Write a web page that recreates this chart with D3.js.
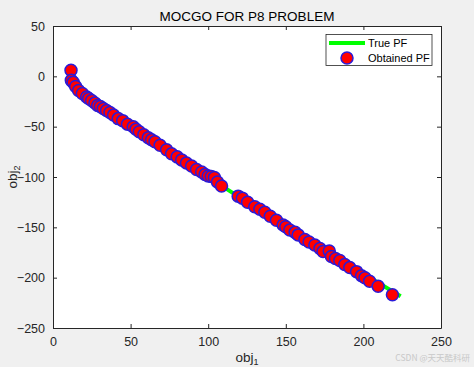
<!DOCTYPE html>
<html>
<head>
<meta charset="utf-8">
<script src="https://cdn.jsdelivr.net/npm/d3@7"></script>
<style>
  body { margin: 0; background: #f0f0f0; }
  svg { display: block; font-family: 'Liberation Sans', Arial, sans-serif; }
</style>
</head>
<body>
<div id="chart"></div>
<script>
// obtained PF (obj1, obj2)
const obtX = [11.6, 11.8, 13, 14.6, 16.5, 18.9, 21.7, 23, 24.9, 27, 28.8, 30.5, 32.4, 34.5, 36.7, 39, 42, 44.9, 48, 51.7,
  53.5, 55.6, 58.5, 61.4, 63.5, 65.7, 69, 73.2, 76.4, 80, 82.9, 86, 89.3, 92.5, 95.8, 98, 100, 102, 104, 106, 108.6,
  119.3, 122, 125.4, 130, 133.3, 136.5, 140, 144, 148.3, 150, 152.6, 156, 158, 162.3, 165, 168.7, 172, 174, 178, 179.4,
  182, 184.8, 188, 191.2, 195.6, 198.8, 201, 204, 209.5, 218.7]
const obtY = [6, -4, -6, -10, -14, -17, -20.5, -22, -24, -26.5, -29, -30, -32, -34, -36, -38.5, -42, -44, -47.5, -50,
  -52.5, -55, -58, -61, -63, -65, -68.5, -73, -77, -80, -83, -86, -89, -92.5, -95, -97.5, -99, -99.5, -100.5, -105, -109,
  -119, -121, -125, -129.5, -132, -135, -139, -143, -147.6, -149.5, -152.6, -155, -157.5, -162, -164.5, -167.5, -171, -174, -173.5, -179,
  -181, -183, -187, -190, -194, -198, -200, -203.5, -208.5, -217]

// true PF
const trueX = [11, 30, 60, 114, 160, 224]
const trueY = [-3, -28.5, -59, -114, -159, -218.5]

const xTicks = [0, 50, 100, 150, 200, 250]
const yTicks = [-250, -200, -150, -100, -50, 0, 50]

const width = 474
const height = 367
const margin = { top: 26, right: 33, bottom: 39, left: 53 }

const x = d3.scaleLinear().domain([0, 250]).range([margin.left, width - margin.right])
const y = d3.scaleLinear().domain([-250, 50]).range([height - margin.bottom, margin.top])

const svg = d3.select('#chart').append('svg')
  .attr('width', width)
  .attr('height', height)

svg.append('rect').attr('width', width).attr('height', height).attr('fill', '#f0f0f0')

svg.append('rect')
  .attr('x', margin.left).attr('y', margin.top)
  .attr('width', x(250) - x(0)).attr('height', y(-250) - y(50))
  .attr('fill', '#fff')

// axes with inward ticks, box on
const tickColor = '#262626'
const axisStyle = g => g.call(g => g.select('.domain').attr('stroke', tickColor))
  .call(g => g.selectAll('.tick line').attr('stroke', tickColor))
  .call(g => g.selectAll('.tick text').attr('fill', '#262626').attr('font-size', 12.5))

svg.append('g')
  .attr('transform', `translate(0,${y(-250)})`)
  .call(d3.axisBottom(x).tickValues(xTicks).tickSizeInner(-4).tickSizeOuter(0).tickPadding(9))
  .call(axisStyle)

svg.append('g')
  .attr('transform', `translate(0,${y(50)})`)
  .call(d3.axisTop(x).tickValues(xTicks).tickSizeInner(-4).tickSizeOuter(0).tickFormat(''))
  .call(axisStyle)

svg.append('g')
  .attr('transform', `translate(${x(0)},0)`)
  .call(d3.axisLeft(y).tickValues(yTicks).tickSizeInner(-4).tickSizeOuter(0).tickPadding(8))
  .call(axisStyle)

svg.append('g')
  .attr('transform', `translate(${x(250)},0)`)
  .call(d3.axisRight(y).tickValues(yTicks).tickSizeInner(-4).tickSizeOuter(0).tickFormat(''))
  .call(axisStyle)

// true PF line
const trueData = trueX.map((v, i) => [v, trueY[i]])
svg.append('path')
  .datum(trueData)
  .attr('fill', 'none')
  .attr('stroke', '#00ff00')
  .attr('stroke-width', 4)
  .attr('d', d3.line().x(d => x(d[0])).y(d => y(d[1])))

// obtained PF markers
const obtData = obtX.map((v, i) => [v, obtY[i]])
svg.append('g')
  .selectAll('circle')
  .data(obtData)
  .join('circle')
  .attr('cx', d => x(d[0]))
  .attr('cy', d => y(d[1]))
  .attr('r', 6)
  .attr('fill', '#ff0000')
  .attr('stroke', '#2a1ad8')
  .attr('stroke-width', 1.5)

// title and labels
svg.append('text')
  .attr('x', (x(0) + x(250)) / 2).attr('y', 21)
  .attr('text-anchor', 'middle').attr('font-size', 13.5).attr('fill', '#000')
  .text('MOCGO FOR P8 PROBLEM')

const xl = svg.append('text')
  .attr('x', (x(0) + x(250)) / 2).attr('y', 362)
  .attr('text-anchor', 'middle').attr('font-size', 13.5).attr('fill', '#262626')
xl.append('tspan').text('obj')
xl.append('tspan').attr('font-size', 9).attr('dy', 3).text('1')

const yl = svg.append('text')
  .attr('transform', `translate(17,${(y(50) + y(-250)) / 2}) rotate(-90)`)
  .attr('text-anchor', 'middle').attr('font-size', 13.5).attr('fill', '#262626')
yl.append('tspan').text('obj')
yl.append('tspan').attr('font-size', 9).attr('dy', 3).text('2')

// legend
const lg = svg.append('g')
lg.append('rect')
  .attr('x', 326).attr('y', 34.5).attr('width', 106).attr('height', 31)
  .attr('fill', '#fff').attr('stroke', '#262626').attr('stroke-width', 0.8)
lg.append('line')
  .attr('x1', 329).attr('x2', 365).attr('y1', 43).attr('y2', 43)
  .attr('stroke', '#00ff00').attr('stroke-width', 4)
lg.append('circle')
  .attr('cx', 347).attr('cy', 58).attr('r', 6)
  .attr('fill', '#ff0000').attr('stroke', '#2a1ad8').attr('stroke-width', 1.5)
lg.append('text').attr('x', 368).attr('y', 47).attr('font-size', 11).attr('fill', '#000').text('True PF')
lg.append('text').attr('x', 368).attr('y', 62).attr('font-size', 11).attr('fill', '#000').text('Obtained PF')

// watermark
svg.append('text')
  .attr('x', 470).attr('y', 361).attr('text-anchor', 'end')
  .attr('font-size', 8.5).attr('fill', '#c8c8c8')
  .attr('font-family', "'Noto Sans CJK SC', sans-serif")
  .text('CSDN @天天酷科研')
</script>
</body>
</html>
